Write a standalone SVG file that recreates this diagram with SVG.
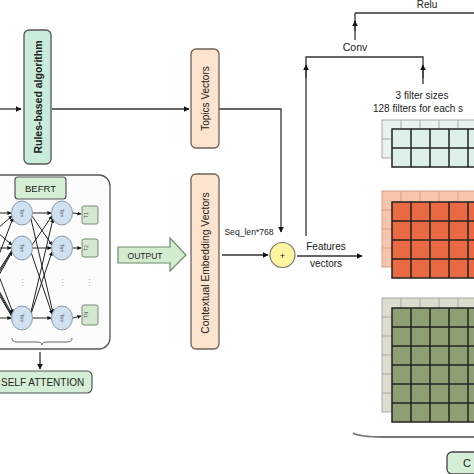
<svg xmlns="http://www.w3.org/2000/svg" width="474" height="474" viewBox="0 0 474 474">
<defs>
<marker id="ah" viewBox="0 0 10 10" refX="9" refY="5" markerWidth="6" markerHeight="6" orient="auto" markerUnits="userSpaceOnUse"><path d="M0,0 L10,5 L0,10 z" fill="#111"/></marker>
<marker id="as" viewBox="0 0 10 10" refX="9" refY="5" markerWidth="4" markerHeight="4" orient="auto" markerUnits="userSpaceOnUse"><path d="M0,0 L10,5 L0,10 z" fill="#111"/></marker>
<style>
text{font-family:"Liberation Sans",Arial,sans-serif;fill:#222}
.ln{stroke:#333;stroke-width:1.3;fill:none}
.nn{stroke:#222;stroke-width:1;fill:none}
.ell{fill:#cfe0f1;stroke:#8a98a8;stroke-width:1}
.tbox{fill:#d3e8cf;stroke:#7a8a78;stroke-width:1}
.peach{fill:#fce3cd;stroke:#6f6357;stroke-width:1.3}
.gbox{fill:#d5efd6;stroke:#555;stroke-width:1.2}
.tiny{font-size:5px;fill:#555}
.dots{font-size:9px;fill:#aaa}
</style>
</defs>
<rect width="474" height="474" fill="#fff"/>

<g id="connectors">
<line class="ln" x1="0" y1="109" x2="21" y2="109" marker-end="url(#ah)"/>
<line class="ln" x1="52" y1="109" x2="189" y2="109" marker-end="url(#ah)"/>
<polyline class="ln" points="219,109 281,109 281,232" marker-end="url(#ah)"/>
<line class="ln" x1="222" y1="255" x2="268" y2="255" marker-end="url(#ah)"/>
<line class="ln" x1="297" y1="256" x2="362" y2="256" marker-end="url(#ah)"/>
<polyline class="ln" points="306,236 306,57 423,57 423,84"/>
<line class="ln" x1="306" y1="78" x2="306" y2="65" marker-end="url(#ah)"/>
<line class="ln" x1="423" y1="78" x2="423" y2="65" marker-end="url(#ah)"/>
<line class="ln" x1="355" y1="40" x2="355" y2="13"/>
<line class="ln" x1="355" y1="31" x2="355" y2="21" marker-end="url(#ah)"/>
<line class="ln" x1="355" y1="13" x2="474" y2="13"/>
<line class="ln" x1="40" y1="352" x2="40" y2="369" marker-end="url(#ah)"/>
<path d="M353,433 Q360,437 382,437 L474,437" fill="none" stroke="#777" stroke-width="2"/>
</g>

<g id="befrt-panel">
<rect x="-20" y="175" width="130" height="174" rx="11" fill="#fcfcfc" stroke="#555" stroke-width="1.3"/>
<g id="befrt-label"><rect class="gbox" x="15" y="177" width="51" height="22" rx="3"/><text x="40.5" y="191.5" font-size="9.5" text-anchor="middle">BEFRT</text></g>
<g class="nn">
<line x1="-25" y1="213" x2="11" y2="213" marker-end="url(#as)"/>
<line x1="-25" y1="248" x2="11" y2="248" marker-end="url(#as)"/>
<line x1="-25" y1="318" x2="11" y2="318" marker-end="url(#as)"/>
<line x1="-25" y1="213" x2="12" y2="245" marker-end="url(#as)"/>
<line x1="-25" y1="248" x2="12" y2="216" marker-end="url(#as)"/>
<line x1="-25" y1="213" x2="13" y2="313" marker-end="url(#as)"/>
<line x1="-25" y1="318" x2="13" y2="218" marker-end="url(#as)"/>
<line x1="-25" y1="248" x2="12" y2="314" marker-end="url(#as)"/>
<line x1="-25" y1="318" x2="12" y2="252" marker-end="url(#as)"/>
<line x1="-20" y1="258" x2="12" y2="316"/>
<line x1="-20" y1="262" x2="12" y2="317"/>
<line x1="-20" y1="300" x2="12" y2="250"/>
<line x1="-20" y1="304" x2="12" y2="251"/>
<line x1="33" y1="213" x2="51" y2="213" marker-end="url(#as)"/>
<line x1="33" y1="248" x2="51" y2="248" marker-end="url(#as)"/>
<line x1="33" y1="318" x2="51" y2="318" marker-end="url(#as)"/>
<line x1="32" y1="216" x2="52" y2="245" marker-end="url(#as)"/>
<line x1="32" y1="245" x2="52" y2="216" marker-end="url(#as)"/>
<line x1="31" y1="219" x2="53" y2="313" marker-end="url(#as)"/>
<line x1="31" y1="312" x2="53" y2="219" marker-end="url(#as)"/>
<line x1="31" y1="252" x2="52" y2="314" marker-end="url(#as)"/>
<line x1="31" y1="314" x2="52" y2="252" marker-end="url(#as)"/>
<line x1="73" y1="213" x2="81" y2="214" marker-end="url(#as)"/>
<line x1="73" y1="248" x2="81" y2="248" marker-end="url(#as)"/>
<line x1="73" y1="318" x2="81" y2="316" marker-end="url(#as)"/>
</g>
<g id="trm-1-1"><ellipse class="ell" cx="22" cy="213" rx="10.5" ry="12"/><text class="tiny" transform="translate(20,213) rotate(90)" text-anchor="middle">Trm</text></g>
<g id="trm-1-2"><ellipse class="ell" cx="22" cy="248" rx="10.5" ry="12"/><text class="tiny" transform="translate(20,248) rotate(90)" text-anchor="middle">Trm</text></g>
<g id="trm-1-3"><ellipse class="ell" cx="22" cy="318" rx="10.5" ry="12"/><text class="tiny" transform="translate(20,318) rotate(90)" text-anchor="middle">Trm</text></g>
<g id="trm-2-1"><ellipse class="ell" cx="62" cy="213" rx="10.5" ry="12"/><text class="tiny" transform="translate(60,213) rotate(90)" text-anchor="middle">Trm</text></g>
<g id="trm-2-2"><ellipse class="ell" cx="62" cy="248" rx="10.5" ry="12"/><text class="tiny" transform="translate(60,248) rotate(90)" text-anchor="middle">Trm</text></g>
<g id="trm-2-3"><ellipse class="ell" cx="62" cy="318" rx="10.5" ry="12"/><text class="tiny" transform="translate(60,318) rotate(90)" text-anchor="middle">Trm</text></g>
<g id="t1"><rect class="tbox" x="82" y="206" width="16" height="18" rx="2"/><text class="tiny" transform="translate(88,215) rotate(-90)" text-anchor="middle">T1</text></g>
<g id="t2"><rect class="tbox" x="82" y="239" width="16" height="18" rx="2"/><text class="tiny" transform="translate(88,248) rotate(-90)" text-anchor="middle">T2</text></g>
<g id="tn"><rect class="tbox" x="82" y="305" width="16" height="20" rx="2"/><text class="tiny" transform="translate(88,315) rotate(-90)" text-anchor="middle">TN</text></g>
<text class="dots" x="22" y="286" text-anchor="middle">⋮</text>
<text class="dots" x="62" y="286" text-anchor="middle">⋮</text>
<text class="dots" x="89" y="286" text-anchor="middle">⋮</text>
<path d="M12,338 Q12,342 17,342 L37,342 Q42,342 42,345 Q42,342 47,342 L67,342 Q72,342 72,338" fill="none" stroke="#666" stroke-width="1"/>
</g>

<g id="self-attention"><rect class="gbox" x="-10" y="371" width="102" height="22" rx="5"/><text x="1" y="386" font-size="10">SELF ATTENTION</text></g>

<g id="rules"><rect x="24" y="30" width="27" height="134" rx="5" fill="#c9ecdb" stroke="#555" stroke-width="1.3"/><text transform="translate(41.5,97) rotate(-90)" font-size="10.5" font-weight="bold" text-anchor="middle">Rules-based algorithm</text></g>

<g id="output-arrow"><path d="M118,247 L170,247 L170,238 L186,255 L170,271 L170,263 L118,263 Z" fill="#d3ecd0" stroke="#6c8a6a" stroke-width="1.2"/><text x="145" y="258.5" font-size="8.5" text-anchor="middle">OUTPUT</text></g>

<g id="topics"><rect class="peach" x="191" y="49" width="28" height="99" rx="5"/><text transform="translate(208.5,98.5) rotate(-90)" font-size="10" text-anchor="middle">Topics Vectors</text></g>
<g id="contextual"><rect class="peach" x="191" y="174" width="28" height="175" rx="5"/><text transform="translate(208.5,263) rotate(-90)" font-size="10.3" text-anchor="middle">Contextual Embedding Vectors</text></g>

<text x="249" y="235" font-size="8.6" text-anchor="middle">Seq_len*768</text>
<g id="plus"><circle cx="282.5" cy="255" r="12.5" fill="#fff59f" stroke="#777" stroke-width="1.2"/><text x="282.5" y="258.5" font-size="9" text-anchor="middle">+</text></g>
<text x="326" y="250" font-size="10" text-anchor="middle">Features</text>
<text x="326" y="267" font-size="10" text-anchor="middle">vectors</text>
<text x="355" y="51" font-size="10.5" text-anchor="middle">Conv</text>
<text x="427" y="8" font-size="10" text-anchor="middle">Relu</text>
<text x="422" y="99" font-size="10" text-anchor="middle">3 filter sizes</text>
<text x="373" y="112" font-size="10">128 filters for each s</text>

<g id="grid-teal">
<rect x="382" y="120" width="100" height="38" fill="#e8f2ef" stroke="#aaa"/>
<path d="M382,139H482M401,120V158M420,120V158M439,120V158M458,120V158" stroke="#aaa" fill="none"/>
<rect x="392" y="129" width="100" height="38" fill="#dcefea" stroke="#222" stroke-width="1.5"/>
<path d="M392,148H492M411,129V167M430,129V167M449,129V167M468,129V167" stroke="#222" stroke-width="1.5" fill="none"/>
</g>
<g id="grid-orange">
<rect x="382" y="191" width="100" height="76" fill="#f7c5ab" stroke="#d9a084"/>
<path d="M382,210H482M382,229H482M382,248H482M401,191V267M420,191V267M439,191V267M458,191V267" stroke="#d9a084" fill="none"/>
<rect x="392" y="202" width="100" height="76" fill="#e96a42" stroke="#222" stroke-width="1.5"/>
<path d="M392,221H492M392,240H492M392,259H492M411,202V278M430,202V278M449,202V278M468,202V278" stroke="#222" stroke-width="1.5" fill="none"/>
</g>
<g id="grid-green">
<rect x="382" y="298" width="100" height="114" fill="#dcdccf" stroke="#aaa"/>
<path d="M382,317H482M382,336H482M382,355H482M382,374H482M382,393H482M401,298V412M420,298V412M439,298V412M458,298V412" stroke="#aaa" fill="none"/>
<rect x="392" y="308" width="100" height="114" fill="#8e9f73" stroke="#222" stroke-width="1.5"/>
<path d="M392,327H492M392,346H492M392,365H492M392,384H492M392,403H492M411,308V422M430,308V422M449,308V422M468,308V422" stroke="#222" stroke-width="1.5" fill="none"/>
</g>

<g id="bottom-box"><rect x="447" y="452" width="40" height="22" rx="5" fill="#d5efd6" stroke="#444" stroke-width="1.3"/><text x="463" y="467" font-size="11">C</text></g>
</svg>
